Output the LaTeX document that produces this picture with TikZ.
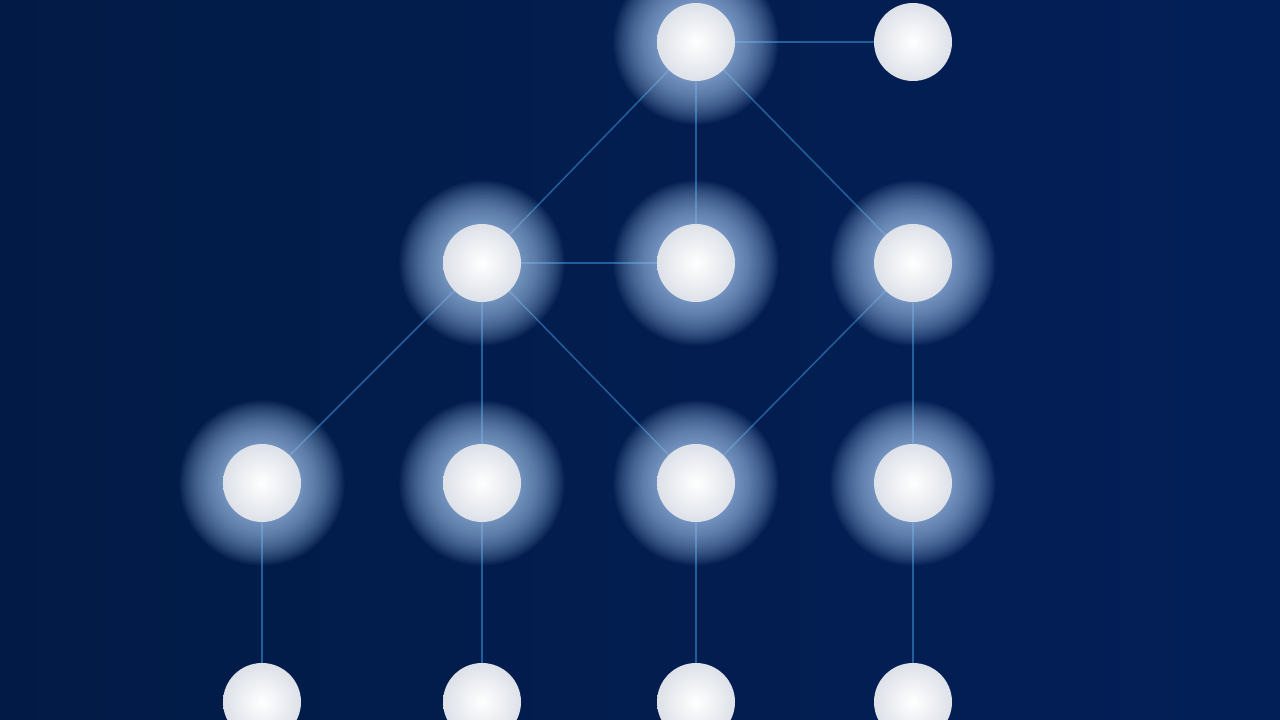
\documentclass[tikz,border=0pt]{standalone}
\pgfdeclarelayer{bgl}\pgfdeclarelayer{edgel}\pgfdeclarelayer{glowl}
\pgfsetlayers{bgl,edgel,glowl,main}
\definecolor{bgdark}{HTML}{021B46}
\definecolor{bgmid}{HTML}{031F58}
\definecolor{edgec}{HTML}{22609C}
\definecolor{glowc}{HTML}{A6C8F2}
\definecolor{rim}{HTML}{DDE1E8}
\tikzset{
  ball/.style={circle, minimum size=58.5pt, inner sep=0pt, shading=radial, inner color=white, middle color=white!96!rim, outer color=rim},
  link/.style={draw=edgec, line width=1.1pt},
}
\newcommand\glowat[1]{%
  \foreach \r in {30,31,...,62}{\fill[glowc, opacity=0.04] (#1) circle (\r pt);}%
}
\begin{document}
\begin{tikzpicture}[x=0.75pt, y=-0.75pt]
\useasboundingbox (0,0) rectangle (1280,720);
\clip (0,0) rectangle (1280,720);
\begin{pgfonlayer}{bgl}
  \shade[left color=bgdark, right color=bgmid] (0,0) rectangle (1280,720);
\end{pgfonlayer}
% nodes
\node[ball] (t1) at (696,42) {};
\node[ball] (t2) at (913,42) {};
\node[ball] (m1) at (482,263) {};
\node[ball] (m2) at (696,263) {};
\node[ball] (m3) at (913,263) {};
\node[ball] (l1) at (262,483) {};
\node[ball] (l2) at (482,483) {};
\node[ball] (l3) at (696,483) {};
\node[ball] (l4) at (913,483) {};
\node[ball] (b1) at (262,702) {};
\node[ball] (b2) at (482,702) {};
\node[ball] (b3) at (696,702) {};
\node[ball] (b4) at (913,702) {};
\begin{pgfonlayer}{glowl}
  \foreach \n in {t1,m1,m2,m3,l1,l2,l3,l4}{\glowat{\n.center}}
\end{pgfonlayer}
\begin{pgfonlayer}{edgel}
  \draw[link] (t1) -- (t2);
  \draw[link] (t1) -- (m1);
  \draw[link] (t1) -- (m2);
  \draw[link] (t1) -- (m3);
  \draw[link] (m1) -- (m2);
  \draw[link] (m1) -- (l1);
  \draw[link] (m1) -- (l2);
  \draw[link] (m1) -- (l3);
  \draw[link] (m3) -- (l3);
  \draw[link] (m3) -- (l4);
  \draw[link] (l1) -- (b1);
  \draw[link] (l2) -- (b2);
  \draw[link] (l3) -- (b3);
  \draw[link] (l4) -- (b4);
\end{pgfonlayer}
\end{tikzpicture}
\end{document}
